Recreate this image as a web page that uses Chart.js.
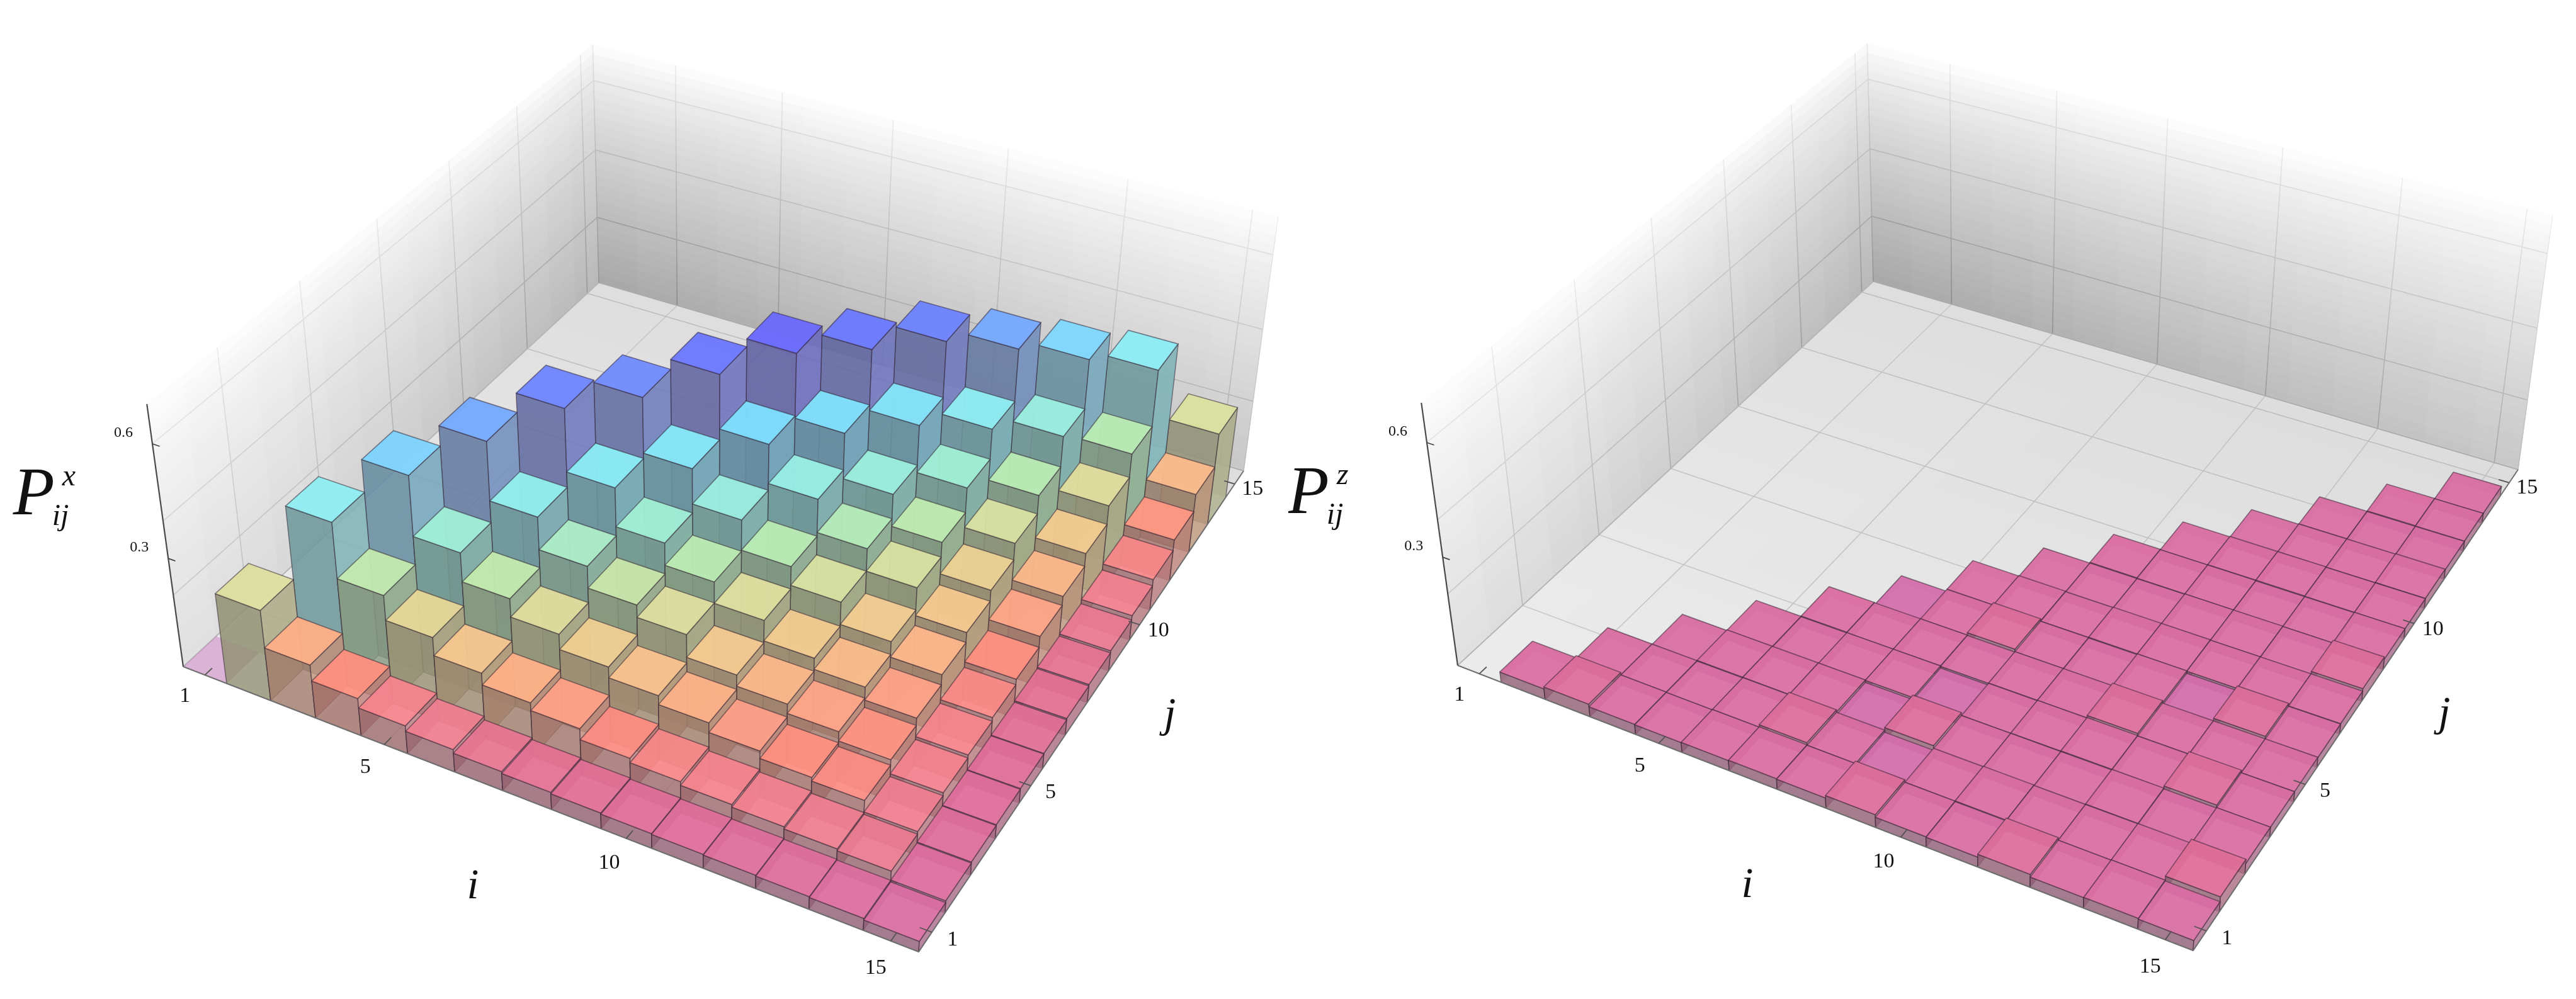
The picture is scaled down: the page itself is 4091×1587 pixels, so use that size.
<!DOCTYPE html>
<html>
<head>
<meta charset="utf-8">
<title>P^x_ij and P^z_ij</title>
<script src="https://cdn.jsdelivr.net/npm/chart.js@4.4.1/dist/chart.umd.min.js"></script>
<style>
  html, body { margin: 0; padding: 0; background: #ffffff; overflow: hidden; }
  #wrap { position: relative; width: 4091px; height: 1587px; }
  .panel { position: absolute; top: 0; height: 1587px; }
  #panelX { left: 0; width: 2046px; }
  #panelZ { left: 2046px; width: 2045px; }
</style>
</head>
<body>
<div id="wrap">
  <div class="panel" id="panelX"><canvas id="chartX"></canvas></div>
  <div class="panel" id="panelZ"><canvas id="chartZ"></canvas></div>
</div>
<script>
// ================= DATA =================
const sites = [1, 2, 3, 4, 5, 6, 7, 8, 9, 10, 11, 12, 13, 14, 15];
const siteTicks = [1, 5, 10, 15];
const valueTicks = [0.3, 0.6];
const valueGrid = [0.2, 0.4, 0.6];
const siteGrid = [2.5, 5, 7.5, 10, 12.5, 15];
const valueMax = 0.7;

// P^x_ij along diagonals d = i - j ; entry k -> j = k + 1, i = j + d
const px_d1  = [0.249, 0.445, 0.530, 0.582, 0.631, 0.625, 0.650, 0.670, 0.647, 0.635, 0.583, 0.523, 0.462, 0.255];
const px_d2  = [0.147, 0.296, 0.371, 0.428, 0.468, 0.482, 0.510, 0.504, 0.490, 0.446, 0.392, 0.310, 0.163];
const px_d3  = [0.103, 0.229, 0.294, 0.342, 0.366, 0.390, 0.408, 0.385, 0.366, 0.310, 0.246, 0.115];
const px_d4  = [0.077, 0.180, 0.245, 0.284, 0.307, 0.310, 0.320, 0.300, 0.260, 0.195, 0.085];
const px_d5  = [0.062, 0.148, 0.204, 0.251, 0.250, 0.260, 0.260, 0.215, 0.160, 0.068];
const px_d6  = [0.052, 0.127, 0.175, 0.190, 0.195, 0.200, 0.185, 0.135, 0.056];
const px_d7  = [0.047, 0.097, 0.151, 0.160, 0.165, 0.158, 0.105, 0.050];
const px_d8  = [0.043, 0.085, 0.125, 0.135, 0.130, 0.090, 0.046];
const px_d9  = [0.040, 0.075, 0.105, 0.110, 0.080, 0.042];
const px_d10 = [0.038, 0.068, 0.095, 0.072, 0.040];
const px_d11 = [0.036, 0.062, 0.064, 0.038];
const px_d12 = [0.034, 0.057, 0.036];
const px_d13 = [0.032, 0.033];
const px_d14 = [0.028];
const pxZeroCells = [[1, 1]];   // (i, j) drawn as a zero-height bar

// P^z_ij along diagonals d = i - j
const pz_d1  = [0.029, 0.028, 0.027, 0.028, 0.029, 0.022, 0.028, 0.027, 0.029, 0.028, 0.027, 0.028, 0.029, 0.028];
const pz_d2  = [0.035, 0.028, 0.029, 0.027, 0.028, 0.028, 0.029, 0.027, 0.028, 0.029, 0.028, 0.027, 0.028];
const pz_d3  = [0.028, 0.027, 0.029, 0.028, 0.028, 0.035, 0.028, 0.027, 0.028, 0.029, 0.028, 0.027];
const pz_d4  = [0.027, 0.028, 0.029, 0.028, 0.027, 0.028, 0.029, 0.028, 0.027, 0.028, 0.029];
const pz_d5  = [0.028, 0.035, 0.022, 0.022, 0.028, 0.027, 0.029, 0.028, 0.027, 0.028];
const pz_d6  = [0.029, 0.028, 0.035, 0.027, 0.028, 0.029, 0.028, 0.027, 0.028];
const pz_d7  = [0.028, 0.022, 0.027, 0.028, 0.035, 0.022, 0.028, 0.035];
const pz_d8  = [0.035, 0.028, 0.027, 0.029, 0.028, 0.035, 0.028];
const pz_d9  = [0.028, 0.029, 0.027, 0.028, 0.028, 0.027];
const pz_d10 = [0.027, 0.028, 0.029, 0.035, 0.028];
const pz_d11 = [0.035, 0.028, 0.027, 0.028];
const pz_d12 = [0.028, 0.029, 0.028];
const pz_d13 = [0.029, 0.040];
const pz_d14 = [0.027];
const pzZeroCells = [];

const pxDiagonals = [px_d1, px_d2, px_d3, px_d4, px_d5, px_d6, px_d7, px_d8, px_d9, px_d10, px_d11, px_d12, px_d13, px_d14];
const pzDiagonals = [pz_d1, pz_d2, pz_d3, pz_d4, pz_d5, pz_d6, pz_d7, pz_d8, pz_d9, pz_d10, pz_d11, pz_d12, pz_d13, pz_d14];

// ================= STYLE / VIEW =================
const PALETTE = [
  [0.000, 200, 110, 190], [0.018, 210, 112, 178], [0.030, 220, 110, 160], [0.045, 226, 112, 148],
  [0.063, 240, 128, 144], [0.080, 246, 134, 140], [0.103, 255, 144, 128], [0.125, 255, 160, 136],
  [0.147, 255, 176, 136], [0.180, 248, 200, 144], [0.230, 232, 216, 152], [0.250, 223, 224, 160],
  [0.300, 192, 236, 176], [0.370, 160, 240, 216], [0.430, 148, 240, 240], [0.470, 140, 238, 248],
  [0.510, 128, 224, 255], [0.540, 128, 208, 255], [0.580, 118, 172, 255], [0.630, 112, 136, 255],
  [0.670, 106, 106, 255]
];
// projective view matrix (site i, site j, value) -> picture units
const CAM = {
  xu: 989.42, xv: 852.39, xz: -104.2, x0: 291,
  yu: 267.93, yv: -519.17, yz: -655.6, y0: 1059,
  wu: -0.1224, wv: 0.2023, wz: -0.093
};
const NS = sites.length;
const SERIF = '"Liberation Serif", "DejaVu Serif", serif';

function projectRaw(i, j, z) {
  const u = (i - 0.5) / NS, v = (j - 0.5) / NS;
  const w = 1 + CAM.wu * u + CAM.wv * v + CAM.wz * z;
  return [(CAM.xu * u + CAM.xv * v + CAM.xz * z + CAM.x0) / w,
          (CAM.yu * u + CAM.yv * v + CAM.yz * z + CAM.y0) / w, w];
}

function colorFor(val) {
  if (val <= PALETTE[0][0]) return PALETTE[0].slice(1);
  for (let k = 1; k < PALETTE.length; k++) {
    if (val <= PALETTE[k][0]) {
      const a = PALETTE[k - 1], b = PALETTE[k];
      const t = (val - a[0]) / (b[0] - a[0]);
      return [a[1] + (b[1] - a[1]) * t, a[2] + (b[2] - a[2]) * t, a[3] + (b[3] - a[3]) * t];
    }
  }
  return PALETTE[PALETTE.length - 1].slice(1);
}
function mix(c, g, k) { return [c[0] * k + g * (1 - k), c[1] * k + g * (1 - k), c[2] * k + g * (1 - k)]; }
function rgba(c, a) { return 'rgba(' + Math.round(c[0]) + ',' + Math.round(c[1]) + ',' + Math.round(c[2]) + ',' + a + ')'; }
function grayCss(g) { const v = Math.max(0, Math.min(255, Math.round(g))); return 'rgb(' + v + ',' + v + ',' + v + ')'; }

function poly(ctx, pts) {
  ctx.beginPath();
  ctx.moveTo(pts[0][0], pts[0][1]);
  for (let k = 1; k < pts.length; k++) ctx.lineTo(pts[k][0], pts[k][1]);
  ctx.closePath();
}
function seg(ctx, a, b, color, width) {
  ctx.beginPath(); ctx.moveTo(a[0], a[1]); ctx.lineTo(b[0], b[1]);
  ctx.strokeStyle = color; ctx.lineWidth = width; ctx.stroke();
}

function leftWallGray(s, t) { return 255 - (30 + 42 * s) * Math.pow(1 - t, 0.6); }
function backWallGray(s, t) { return 255 - (88 - 33 * s) * Math.pow(1 - t, 0.75); }
function floorGray(u, v) { return 236 - 14 * v - 2 * u; }

function buildCells(diagonals, zeroCells) {
  const cells = [];
  diagonals.forEach((arr, di) => arr.forEach((val, k) => {
    const j = sites[k], i = j + di + 1;
    cells.push({ i: i, j: j, z: val });
  }));
  zeroCells.forEach(c => cells.push({ i: c[0], j: c[1], z: 0 }));
  return cells;
}

const box3d = {
  id: 'box3d',
  beforeDatasetsDraw(chart, args, opts) {
    const ctx = chart.ctx, xs = chart.scales.x, ys = chart.scales.y, sh = opts.shift;
    const S = (i, j, z) => {
      const p = projectRaw(i, j, z);
      return [xs.getPixelForValue(p[0] + sh[0]), ys.getPixelForValue(p[1] + sh[1])];
    };
    const lo = 0.5, hi = NS + 0.5;
    ctx.save();
    ctx.lineJoin = 'round';

    // ---- walls ----
    const NA = 15, NT = 28;
    for (let a = 0; a < NA; a++) {
      for (let b = 0; b < NT; b++) {
        const p0 = lo + (hi - lo) * a / NA, p1 = lo + (hi - lo) * (a + 1) / NA;
        const z0 = valueMax * b / NT, z1 = valueMax * (b + 1) / NT;
        const s = (a + 0.5) / NA, t = (b + 0.5) / NT;
        let col = grayCss(leftWallGray(s, t));
        poly(ctx, [S(lo, p0, z0), S(lo, p1, z0), S(lo, p1, z1), S(lo, p0, z1)]);
        ctx.fillStyle = col; ctx.fill(); ctx.strokeStyle = col; ctx.lineWidth = 1; ctx.stroke();
        col = grayCss(backWallGray(s, t));
        poly(ctx, [S(p0, hi, z0), S(p1, hi, z0), S(p1, hi, z1), S(p0, hi, z1)]);
        ctx.fillStyle = col; ctx.fill(); ctx.strokeStyle = col; ctx.lineWidth = 1; ctx.stroke();
      }
    }
    // ---- floor ----
    for (let a = 0; a < NS; a++) {
      for (let b = 0; b < NS; b++) {
        const col = grayCss(floorGray((a + 0.5) / NS, (b + 0.5) / NS));
        poly(ctx, [S(lo + a, lo + b, 0), S(lo + a + 1, lo + b, 0), S(lo + a + 1, lo + b + 1, 0), S(lo + a, lo + b + 1, 0)]);
        ctx.fillStyle = col; ctx.fill(); ctx.strokeStyle = col; ctx.lineWidth = 1; ctx.stroke();
      }
    }
    // ---- grid lines ----
    const GL = 1.6;
    siteGrid.forEach(g => {
      const s = (g - lo) / (hi - lo);
      for (let b = 0; b < NT; b++) {
        const z0 = valueMax * b / NT, z1 = valueMax * (b + 1) / NT, t = (b + 0.5) / NT;
        seg(ctx, S(lo, g, z0), S(lo, g, z1), grayCss(leftWallGray(s, t) - 34 * (1 - 0.5 * t)), GL);
        seg(ctx, S(g, hi, z0), S(g, hi, z1), grayCss(backWallGray(s, t) - 34 * (1 - 0.5 * t)), GL);
      }
      seg(ctx, S(g, lo, 0), S(g, hi, 0), grayCss(floorGray(s, 0.5) - 32), GL);
      seg(ctx, S(lo, g, 0), S(hi, g, 0), grayCss(floorGray(0.5, s) - 32), GL);
    });
    valueGrid.forEach(zg => {
      const t = zg / valueMax;
      for (let a = 0; a < NA; a++) {
        const p0 = lo + (hi - lo) * a / NA, p1 = lo + (hi - lo) * (a + 1) / NA, s = (a + 0.5) / NA;
        seg(ctx, S(lo, p0, zg), S(lo, p1, zg), grayCss(leftWallGray(s, t) - 34 * (1 - 0.5 * t)), GL);
        seg(ctx, S(p0, hi, zg), S(p1, hi, zg), grayCss(backWallGray(s, t) - 34 * (1 - 0.5 * t)), GL);
      }
    });
    seg(ctx, S(lo, lo, 0), S(lo, hi, 0), '#b4b4b4', 1.8);
    seg(ctx, S(lo, hi, 0), S(hi, hi, 0), '#a8a8a8', 1.8);
    for (let b = 0; b < NT; b++) {
      const z0 = valueMax * b / NT, z1 = valueMax * (b + 1) / NT, t = (b + 0.5) / NT;
      seg(ctx, S(lo, hi, z0), S(lo, hi, z1), grayCss(backWallGray(0, t) - 20), 1.6);
      seg(ctx, S(hi, hi, z0), S(hi, hi, z1), grayCss(backWallGray(1, t) - 15), 1.4);
    }

    // ---- bars ----
    const cells = opts.cells.slice().sort((p, q) => projectRaw(q.i, q.j, 0)[2] - projectRaw(p.i, p.j, 0)[2]);
    const edge = 'rgba(45,30,45,0.5)';
    cells.forEach(c => {
      const i0 = c.i - 0.5, i1 = c.i + 0.5, j0 = c.j - 0.5, j1 = c.j + 0.5, z = c.z;
      const top = colorFor(z);
      const t00 = S(i0, j0, z), t10 = S(i1, j0, z), t11 = S(i1, j1, z), t01 = S(i0, j1, z);
      if (z <= 0) {
        poly(ctx, [t00, t10, t11, t01]);
        ctx.fillStyle = rgba(top, 0.45); ctx.fill();
        return;
      }
      const b00 = S(i0, j0, 0), b10 = S(i1, j0, 0), b11 = S(i1, j1, 0), b01 = S(i0, j1, 0);
      const back = mix(top, 70, 0.4);
      poly(ctx, [b00, b01, t01, t00]); ctx.fillStyle = rgba(back, 0.35); ctx.fill();
      poly(ctx, [b01, b11, t11, t01]); ctx.fillStyle = rgba(back, 0.35); ctx.fill();
      poly(ctx, [b00, b10, t10, t00]); ctx.fillStyle = rgba(mix(top, 85, 0.45), 0.8); ctx.fill();
      ctx.strokeStyle = edge; ctx.lineWidth = 1.5; ctx.stroke();
      poly(ctx, [b10, b11, t11, t10]); ctx.fillStyle = rgba(mix(top, 110, 0.57), 0.8); ctx.fill();
      ctx.strokeStyle = edge; ctx.lineWidth = 1.5; ctx.stroke();
      poly(ctx, [t00, t10, t11, t01]); ctx.fillStyle = rgba(top, 0.94); ctx.fill();
      ctx.strokeStyle = edge; ctx.lineWidth = 1.7; ctx.stroke();
    });

    // ---- axes ----
    seg(ctx, S(lo, lo, 0), S(hi, lo, 0), '#707070', 2);
    seg(ctx, S(hi, lo, 0), S(hi, hi, 0), '#707070', 2);
    seg(ctx, S(lo, lo, 0), S(lo, lo, valueMax), '#4a4a4a', 2.2);
    siteTicks.forEach(t => {
      seg(ctx, S(t, lo, 0), S(t, lo + 0.22, 0), '#555', 1.8);
      seg(ctx, S(hi, t, 0), S(hi - 0.22, t, 0), '#555', 1.8);
    });
    valueTicks.forEach(v => seg(ctx, S(lo, lo, v), S(lo + 0.16, lo, v), '#444', 1.8));

    ctx.fillStyle = '#111';
    ctx.textAlign = 'center'; ctx.textBaseline = 'middle';
    ctx.font = '34px ' + SERIF;
    siteTicks.forEach(t => {
      const a = S(t + 0.05, -0.16, 0); ctx.fillText(String(t), a[0], a[1]);
      const b = S(hi + 0.37, t, 0); ctx.fillText(String(t), b[0], b[1]);
    });
    ctx.font = '24px ' + SERIF;
    valueTicks.forEach(v => { const a = S(lo, lo, v); ctx.fillText(v.toFixed(1), a[0] - 46, a[1] - 17); });

    ctx.font = 'italic 68px ' + SERIF;
    let a = S(8.33, -1.74, 0); ctx.fillText('i', a[0], a[1]);
    a = S(16.97, 7.77, 0); ctx.fillText('j', a[0], a[1] - 6);

    a = S(lo, lo, 0.45);
    ctx.textAlign = 'left'; ctx.textBaseline = 'alphabetic';
    ctx.font = 'italic 108px ' + SERIF; ctx.fillText('P', a[0] - 234, a[1] + 20);
    ctx.font = 'italic 48px ' + SERIF;
    ctx.fillText(opts.sup, a[0] - 156, a[1] - 26);
    ctx.fillText('ij', a[0] - 172, a[1] + 37);
    ctx.restore();
  }
};

function makeChart(canvasId, width, shift, cells, sup) {
  const pts = cells.map(c => { const p = projectRaw(c.i, c.j, c.z); return { x: p[0] + shift[0], y: p[1] + shift[1] }; });
  return new Chart(document.getElementById(canvasId), {
    type: 'scatter',
    data: { datasets: [{ data: pts, pointRadius: 0, showLine: false }] },
    options: {
      responsive: true, maintainAspectRatio: false, animation: false, events: [],
      layout: { padding: 0 },
      scales: {
        x: { type: 'linear', display: false, min: 0, max: width },
        y: { type: 'linear', display: false, min: 0, max: 1587, reverse: true }
      },
      plugins: { legend: { display: false }, tooltip: { enabled: false },
                 box3d: { shift: shift, cells: cells, sup: sup } }
    },
    plugins: [box3d]
  });
}

makeChart('chartX', 2046, [0, 0], buildCells(pxDiagonals, pxZeroCells), 'x');
makeChart('chartZ', 2045, [2024 - 2046, -2], buildCells(pzDiagonals, pzZeroCells), 'z');
</script>
</body>
</html>
